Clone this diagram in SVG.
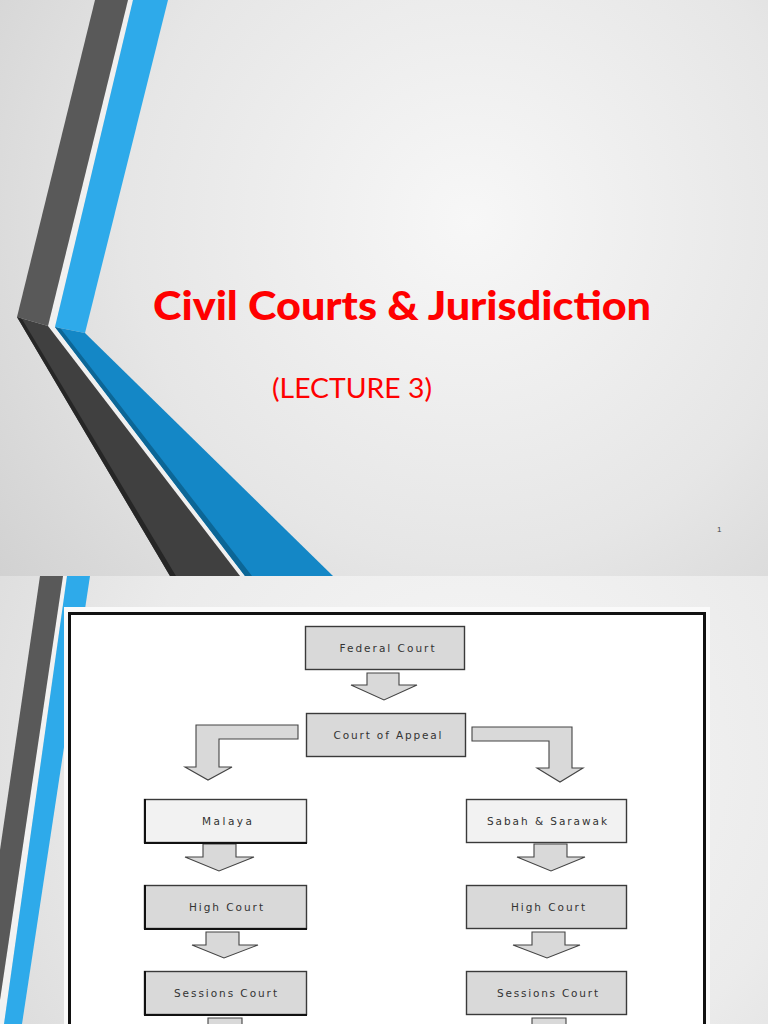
<svg xmlns="http://www.w3.org/2000/svg" width="768" height="1024" viewBox="0 0 768 1024">
  <defs>
    <radialGradient id="bg1" cx="470" cy="220" r="620" gradientUnits="userSpaceOnUse">
      <stop offset="0" stop-color="#f7f7f7"/>
      <stop offset="0.55" stop-color="#e6e6e6"/>
      <stop offset="1" stop-color="#cfcfcf"/>
    </radialGradient>
    <radialGradient id="bg2" cx="470" cy="760" r="620" gradientUnits="userSpaceOnUse">
      <stop offset="0" stop-color="#f7f7f7"/>
      <stop offset="0.55" stop-color="#ebebeb"/>
      <stop offset="1" stop-color="#d6d6d6"/>
    </radialGradient>
    <clipPath id="clip2"><rect x="0" y="576" width="768" height="448"/></clipPath>
  </defs>
  <style>
    .title { font-family: Lato, "Liberation Sans", sans-serif; font-weight: 900; fill: #ff0000; }
    .sub { font-family: Lato, "Liberation Sans", sans-serif; fill: #ff0000; }
    .box { fill: #d9d9d9; stroke: #3a3a3a; stroke-width: 1.4; }
    .box.light { fill: #f2f2f2; }
    .edge { stroke: #111; stroke-width: 2; fill: none; }
    .lbl { font-family: "DejaVu Sans", "Liberation Sans", sans-serif; font-size: 10.5px; fill: #333; text-anchor: middle; }
    .arr { fill: #d9d9d9; stroke: #444; stroke-width: 1.1; stroke-linejoin: miter; }
  </style>

  <!-- Slide 1 -->
  <g id="slide1">
    <rect x="0" y="0" width="768" height="576" fill="url(#bg1)"/>
    <polygon points="128,0 133,0 55,327 245,576 240,576 48,326" fill="#f0f0f0"/>
    <polygon points="95,0 128,0 48,326 17,317" fill="#595959"/>
    <polygon points="17,317 48,326 240,576 170,576" fill="#404040"/>
    <polygon points="17,317 22,319 176,576 170,576" fill="#262626"/>
    <polygon points="133,0 168,0 85,333 55,327" fill="#2eaaea"/>
    <polygon points="55,327 85,333 333,576 245,576" fill="#1487c6"/>
    <polygon points="55,327 61,329 252,576 245,576" fill="#0c6696"/>
    <text class="title" x="153" y="320" font-size="39" textLength="498" lengthAdjust="spacingAndGlyphs">Civil Courts &amp; Jurisdiction</text>
    <text class="sub" x="272" y="398" font-size="26" textLength="160" lengthAdjust="spacingAndGlyphs">(LECTURE 3)</text>
    <text x="717" y="532" font-family="Liberation Sans, sans-serif" font-size="8" fill="#444">1</text>
  </g>

  <!-- Slide 2 -->
  <g id="slide2" clip-path="url(#clip2)">
    <rect x="0" y="576" width="768" height="448" fill="url(#bg2)"/>
    <polygon points="63,576 67,576 4,1024 0,1024 0,1000" fill="#f2f2f2"/>
    <polygon points="40,576 63,576 0,1000 0,850" fill="#595959"/>
    <polygon points="67,576 90,576 22,1024 4,1024" fill="#2eaaea"/>
    <rect x="64" y="607" width="646" height="430" fill="#fafafa"/>
    <rect x="69.5" y="613.5" width="635" height="430" fill="#ffffff" stroke="#111" stroke-width="3"/>
  </g>

  <g id="connectors" clip-path="url(#clip2)">
    <path class="arr" d="M367,673 H399 V685 H417 L384,700 L351,685 H367 Z"/>
    <path class="arr" d="M298,725 H196 V767 H185 L208,780 L232,767 H219 V739 H298 Z"/>
    <path class="arr" d="M472,727 H572 V768 H583 L560,782 L537,768 H549 V741 H472 Z"/>
    <path class="arr" d="M203,844 H236 V857 H254 L219,871 L185,857 H203 Z"/>
    <path class="arr" d="M534,844 H567 V857 H585 L551,871 L517,857 H534 Z"/>
    <path class="arr" d="M206,932 H239 V945 H258 L224,958 L192,945 H206 Z"/>
    <path class="arr" d="M532,932 H565 V945 H580 L547,958 L513,945 H532 Z"/>
    <path class="arr" d="M208,1018 H242 V1030 H208 Z"/>
    <path class="arr" d="M532,1018 H566 V1030 H532 Z"/>
  </g>

  <g id="federal-court">
    <rect class="box" x="305.5" y="626.5" width="159" height="43"/>
    <text class="lbl" x="387" y="652" textLength="95" lengthAdjust="spacing">Federal Court</text>
  </g>
  <g id="court-of-appeal">
    <rect class="box" x="306.5" y="713.5" width="159" height="43"/>
    <text class="lbl" x="387.5" y="739" textLength="108" lengthAdjust="spacing">Court of Appeal</text>
  </g>
  <g id="malaya">
    <rect class="box light" x="144.5" y="799.5" width="162" height="43"/>
    <path class="edge" d="M145,799 V843 H307"/>
    <text class="lbl" x="227" y="825" textLength="50" lengthAdjust="spacing">Malaya</text>
  </g>
  <g id="sabah-sarawak">
    <rect class="box light" x="466.5" y="799.5" width="160" height="43"/>
    <text class="lbl" x="547" y="825" textLength="120" lengthAdjust="spacing">Sabah &amp; Sarawak</text>
  </g>
  <g id="high-court-left">
    <rect class="box" x="144.5" y="885.5" width="162" height="43"/>
    <path class="edge" d="M145,885 V929 H307"/>
    <text class="lbl" x="226" y="911" textLength="74" lengthAdjust="spacing">High Court</text>
  </g>
  <g id="high-court-right">
    <rect class="box" x="466.5" y="885.5" width="160" height="43"/>
    <text class="lbl" x="548" y="911" textLength="74" lengthAdjust="spacing">High Court</text>
  </g>
  <g id="sessions-court-left">
    <rect class="box" x="144.5" y="971.5" width="162" height="43"/>
    <path class="edge" d="M145,971 V1015 H307"/>
    <text class="lbl" x="225.5" y="997" textLength="103" lengthAdjust="spacing">Sessions Court</text>
  </g>
  <g id="sessions-court-right">
    <rect class="box" x="466.5" y="971.5" width="160" height="43"/>
    <text class="lbl" x="547.5" y="997" textLength="101" lengthAdjust="spacing">Sessions Court</text>
  </g>
</svg>
